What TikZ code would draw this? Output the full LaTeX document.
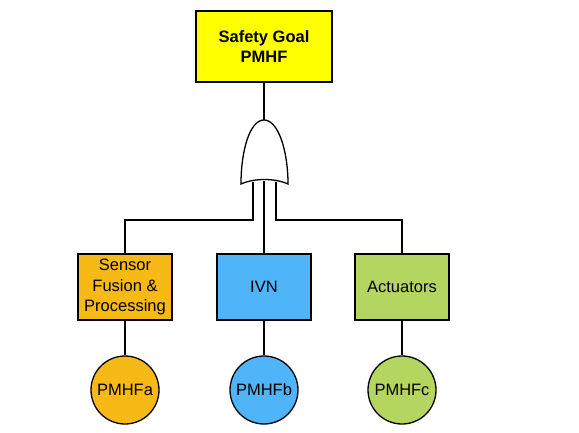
\documentclass[tikz,border=0pt]{standalone}
\usepackage{fontspec}
\setmainfont{Liberation Sans}
\definecolor{cyel}{HTML}{FFFF00}
\definecolor{corg}{HTML}{F7B916}
\definecolor{cblu}{HTML}{4FB4F8}
\definecolor{cgrn}{HTML}{B4D661}
\begin{document}
\begin{tikzpicture}[x=1pt,y=-1pt,
  box/.style={draw, line width=1.3pt, rectangle, align=center, inner sep=0pt,
    font=\fontsize{16.5}{20.5}\selectfont},
  evt/.style={draw, circle, line width=1.3pt, minimum size=68pt, inner sep=0pt,
    font=\fontsize{16.5}{20}\selectfont},
  conn/.style={line width=1.1pt},
  gatestyle/.style={draw, line width=1.3pt, fill=white}]
\useasboundingbox (0,0) rectangle (579,432);
\node[box, fill=cyel, minimum width=136pt, minimum height=71pt, font=\bfseries\fontsize{16.5}{20.5}\selectfont] (top) at (264,46.5) {Safety Goal\\PMHF};
\node[box, fill=corg, minimum width=94pt, minimum height=66pt] (sen) at (125,287) {Sensor\\Fusion \&\\Processing};
\node[box, fill=cblu, minimum width=94pt, minimum height=66pt] (ivn) at (264,287) {IVN};
\node[box, fill=cgrn, minimum width=94pt, minimum height=66pt] (act) at (402,287) {Actuators};
\node[evt, fill=corg] (pa) at (125,390) {PMHFa};
\node[evt, fill=cblu] (pb) at (264,390) {PMHFb};
\node[evt, fill=cgrn] (pc) at (402,390) {PMHFc};
% OR gate
\coordinate (gtop) at (264,120);
\coordinate (gin1) at (253,182);
\coordinate (gin2) at (264,181);
\coordinate (gin3) at (276,182);
\draw[conn] (gin1) -- ++(0,38) -| (sen.north);
\draw[conn] (gin2) -- (ivn.north);
\draw[conn] (gin3) -- ++(0,38) -| (act.north);
\draw[gatestyle] (241,184) .. controls (241,150) and (250,120) .. (gtop)
  .. controls (278,120) and (288,150) .. (288,184)
  .. controls (275,178) and (254,178) .. cycle;
\draw[conn] (top.south) -- (gtop);
\draw[conn] (sen.south) -- (pa.north);
\draw[conn] (ivn.south) -- (pb.north);
\draw[conn] (act.south) -- (pc.north);
\end{tikzpicture}
\end{document}
